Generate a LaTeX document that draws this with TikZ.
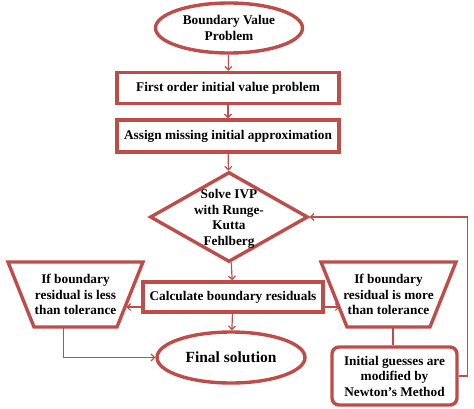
\documentclass[tikz,border=0pt]{standalone}
\usepackage{fontspec}
\setmainfont{Liberation Serif}
\usetikzlibrary{shapes.geometric,arrows.meta,calc}
\definecolor{bred}{RGB}{190,76,73}
\tikzset{
  txt/.style={font=\bfseries\fontsize{13.3}{15.5}\selectfont,align=center,inner sep=0pt},
  box/.style={txt,draw=bred,line width=3.4pt,fill=white},
  rbox/.style={box,rectangle,minimum width=#1,minimum height=31pt},
  oval/.style={box,ellipse,minimum width=147pt,minimum height=50pt},
  border/.style={draw=bred,line width=3.4pt,fill=white,line join=miter},
  arr/.style={draw=bred,line width=1.2pt,-{Straight Barb[length=3.5pt,width=7pt]}},
  ln/.style={draw=bred,line width=1.2pt}
}
\begin{document}
\begin{tikzpicture}[x=1pt,y=-1pt]
\useasboundingbox (0,0) rectangle (474,408);
\node[oval] (bvp) at (229,28) {Boundary Value\\Problem};
\node[rbox=222pt] (ivp) at (228,88) {First order initial value problem};
\node[rbox=222pt,minimum height=32pt] (assign) at (228,136) {Assign missing initial approximation};
\node[box,diamond,minimum width=158pt,minimum height=90pt,inner sep=0pt] (solve) at (229,217) {};
\node[txt] (solvet) at (229,219) {Solve IVP\\with Runge-\\Kutta\\Fehlberg};
\node[rbox=180pt,minimum height=30pt] (calc) at (233,297) {Calculate boundary residuals};
% trapezoids
\coordinate (lessc) at (75.5,294.5);
\draw[border] ($(lessc)+(-67.5,-32.5)$) -- ($(lessc)+(67.5,-32.5)$) -- ($(lessc)+(41.5,32.5)$) -- ($(lessc)+(-41.5,32.5)$) -- cycle;
\node[txt] (less) at (lessc) {If boundary\\residual is less\\than tolerance};
\coordinate (lessb) at ($(lessc)+(-12,32.5)$);
\coordinate (morec) at (388.5,294.5);
\draw[border] ($(morec)+(-67.5,-32.5)$) -- ($(morec)+(67.5,-32.5)$) -- ($(morec)+(41.5,32.5)$) -- ($(morec)+(-41.5,32.5)$) -- cycle;
\node[txt] (more) at (morec) {If boundary\\residual is more\\than tolerance};
\coordinate (moreb) at ($(morec)+(4.5,32.5)$);
\node[oval,minimum width=148pt,minimum height=51pt] (final) at (231,357.5) {\fontsize{15.5}{17}\selectfont Final solution};
\node[box,rectangle,rounded corners=7pt,minimum width=125pt,minimum height=58pt] (newton) at (394.5,376) {Initial guesses are\\modified by\\Newton’s Method};
\draw[arr] (bvp) -- (ivp);
\draw[arr] (ivp) -- (assign);
\draw[arr] (assign) -- (solve);
\draw[arr] (solve) -- (calc);
\draw[arr] ([yshift=-10pt]calc.west) -- ++(-15pt,0);
\draw[arr] ([yshift=-10pt]calc.east) -- ++(15pt,0);
\draw[arr] (calc) -- (final);
\draw[arr] (lessb) |- (final.west);
\draw[ln] (moreb) -- (moreb |- newton.north);
\draw[arr] (newton.east) -- ++(9pt,0) |- (solve.east);
\end{tikzpicture}
\end{document}
